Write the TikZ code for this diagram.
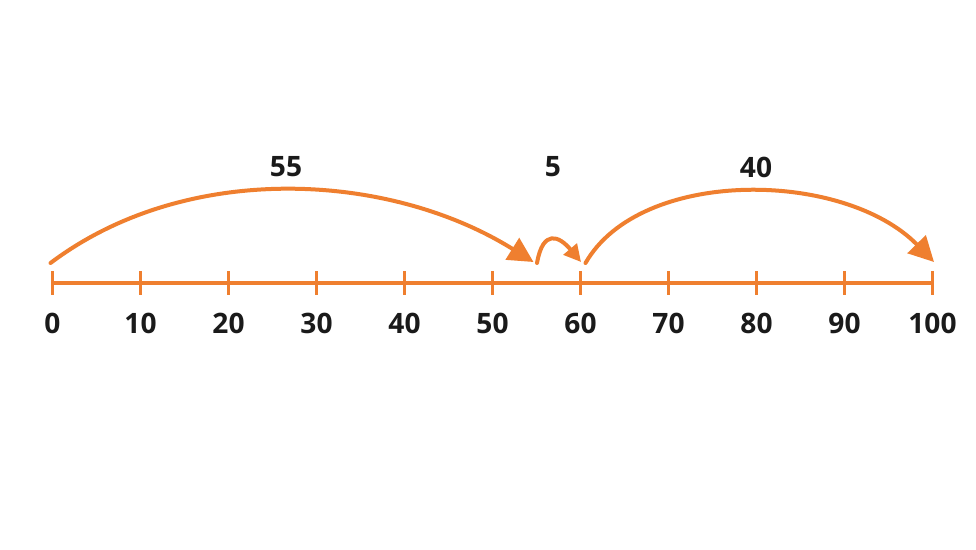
\documentclass[tikz,border=0pt]{standalone}
\usepackage{fontspec}
\setmainfont{Open Sans}
\usepackage{xcolor}
\usepackage{tikz}
\usetikzlibrary{arrows.meta,positioning,calc}
\definecolor{jumporange}{HTML}{EF7F2F}
\definecolor{numblack}{HTML}{1A1A1A}
\tikzset{
  numline/.style={draw=jumporange, line width=0.085cm},
  tickmark/.style={draw=jumporange, line width=0.068cm},
  ticklabel/.style={font=\bfseries\fontsize{16}{18}\selectfont, text=numblack,
    inner sep=0pt},
  jumplabel/.style={font=\bfseries\fontsize{16}{18}\selectfont, text=numblack,
    inner sep=0pt},
  jumparrow/.style={draw=jumporange, line width=0.08cm,
    -{Triangle[length=#1, width=#1]}, line cap=round},
  jumparrow/.default=0.5cm,
}
\begin{document}
\begin{tikzpicture}[x=0.02cm, y=-0.02cm]
\useasboundingbox[fill=white] (0,0) rectangle (976,549);
% number line
\foreach \v in {0,10,...,100} {
  \coordinate (t\v) at ({52.5+8.8*\v},283);
  \draw[tickmark] ($(t\v)+(0,-12)$) -- ($(t\v)+(0,12)$);
  \node[ticklabel] (l\v) at ($(t\v)+(0,40)$) {\v};
}
\coordinate (t55) at ({52.5+8.8*55},283);
\draw[numline] (t0) -- (t100);

% jump ends
\coordinate (a1s) at ($(t0)+(-2,-20)$);
\coordinate (a1e) at ($(t55)+(-3,-21)$);
\coordinate (a2s) at ($(t55)+(0.5,-20)$);
\coordinate (a2e) at ($(t60)+(0.5,-21)$);
\coordinate (a3s) at ($(t60)+(5,-20)$);
\coordinate (a3e) at ($(t100)+(1.5,-21)$);

% jumps
\draw[jumparrow] (a1s) to[out=37, in=148, looseness=0.9] (a1e);
\draw[jumparrow=0.34cm] (a2s) to[out=80, in=130, looseness=2] (a2e);
\draw[jumparrow] (a3s) .. controls ($(a3s)+(55,-96)$) and ($(a3e)+(-90,-92)$) .. (a3e);

% jump sizes
\node[jumplabel] (j55) at (286,167) {55};
\node[jumplabel] (j5) at (553,167) {5};
\node[jumplabel] (j40) at (756,167) {40};
\end{tikzpicture}
\end{document}
